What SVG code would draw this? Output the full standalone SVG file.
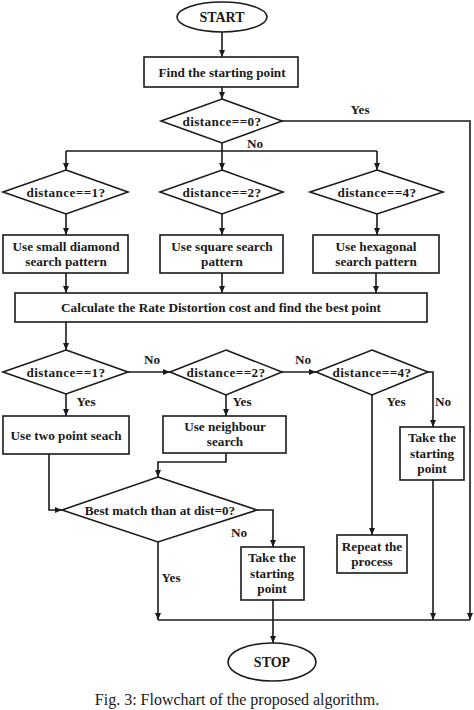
<svg xmlns="http://www.w3.org/2000/svg" width="474" height="710" viewBox="0 0 474 710">
<style>
.s{fill:#fff;stroke:#1a1a1a;stroke-width:1.6}
.c{fill:none;stroke:#1a1a1a;stroke-width:1.6}
text{font-family:"Liberation Serif","Times New Roman",serif;font-weight:bold;font-size:13.2px;fill:#1a1a1a;text-anchor:middle}
.l{font-size:14px}
.d{letter-spacing:0.4px}
.cap{font-weight:normal;font-size:16px}
</style>
<defs>
<marker id="a" markerWidth="8" markerHeight="8" refX="7" refY="4" orient="auto" markerUnits="userSpaceOnUse">
<path d="M0,1 L7,4 L0,7 Z" fill="#1a1a1a"/>
</marker>
</defs>
<rect width="474" height="710" fill="#fff"/>
<g id="connectors" class="c">
<path d="M222,32 V57" marker-end="url(#a)"/>
<path d="M222,87 V99" marker-end="url(#a)"/>
<path d="M282,121 H470 V620" marker-end="url(#a)"/>
<path d="M222,143 V151 M66,151 H377"/>
<path d="M66,151 V170" marker-end="url(#a)"/>
<path d="M222,151 V170" marker-end="url(#a)"/>
<path d="M377,151 V170" marker-end="url(#a)"/>
<path d="M66,214 V235" marker-end="url(#a)"/>
<path d="M222,214 V235" marker-end="url(#a)"/>
<path d="M377,214 V235" marker-end="url(#a)"/>
<path d="M66,273 V293" marker-end="url(#a)"/>
<path d="M222,273 V293" marker-end="url(#a)"/>
<path d="M376,273 V293" marker-end="url(#a)"/>
<path d="M66,322 V350" marker-end="url(#a)"/>
<path d="M128,372 H170" marker-end="url(#a)"/>
<path d="M282,372 H316" marker-end="url(#a)"/>
<path d="M428,372 H433 V427" marker-end="url(#a)"/>
<path d="M372,395 V535" marker-end="url(#a)"/>
<path d="M66,394 V416" marker-end="url(#a)"/>
<path d="M226,395 V416" marker-end="url(#a)"/>
<path d="M226,453 V462 H158 V477" marker-end="url(#a)"/>
<path d="M49,454 V510 H62" marker-end="url(#a)"/>
<path d="M257,510 H273 V547" marker-end="url(#a)"/>
<path d="M158,542 V620" marker-end="url(#a)"/>
<path d="M158,620 H470"/>
<path d="M433,480 V620" marker-end="url(#a)"/>
<path d="M273,600 V643" marker-end="url(#a)"/>
</g>
<g id="labels">
<text x="360" y="114">Yes</text>
<text x="255" y="148">No</text>
<text x="152" y="364">No</text>
<text x="303" y="364">No</text>
<text x="86" y="406">Yes</text>
<text x="242" y="406">Yes</text>
<text x="396" y="406">Yes</text>
<text x="443" y="406">No</text>
<text x="239" y="537">No</text>
<text x="171" y="582">Yes</text>
</g>
<g id="start"><ellipse class="s" cx="222" cy="17" rx="45" ry="15"/><text class="l" x="222" y="22">START</text></g>
<g id="find"><rect class="s" x="144" y="57" width="154" height="30"/><text x="222" y="76.5">Find the starting point</text></g>
<g id="d0"><polygon class="s" points="222,99 282,121 222,143 161,121"/><text class="d" x="222" y="125.5">distance==0?</text></g>
<g id="d1a"><polygon class="s" points="66,170 128,192 66,214 3,192"/><text class="d" x="66" y="196.5">distance==1?</text></g>
<g id="d2a"><polygon class="s" points="222,170 283,192 222,214 160,192"/><text class="d" x="222" y="196.5">distance==2?</text></g>
<g id="d4a"><polygon class="s" points="377,170 443,192 377,214 310,192"/><text class="d" x="377" y="196.5">distance==4?</text></g>
<g id="small"><rect class="s" x="3" y="235" width="125" height="38"/><text x="66" y="251">Use small diamond</text><text x="66" y="266">search pattern</text></g>
<g id="square"><rect class="s" x="160" y="235" width="123" height="38"/><text x="222" y="251">Use square search</text><text x="222" y="266">pattern</text></g>
<g id="hex"><rect class="s" x="313" y="235" width="126" height="38"/><text x="376" y="251">Use hexagonal</text><text x="376" y="266">search pattern</text></g>
<g id="calc"><rect class="s" x="15" y="293" width="412" height="29"/><text x="221" y="312">Calculate the Rate Distortion cost and find the best point</text></g>
<g id="d1b"><polygon class="s" points="66,350 128,372 66,394 3,372"/><text class="d" x="66" y="376.5">distance==1?</text></g>
<g id="d2b"><polygon class="s" points="226,350 282,372 226,395 170,372"/><text class="d" x="226" y="376.5">distance==2?</text></g>
<g id="d3b"><polygon class="s" points="372,350 428,372 372,395 316,372"/><text class="d" x="372" y="376.5">distance==4?</text></g>
<g id="twopoint"><rect class="s" x="3" y="416" width="126" height="38"/><text x="66" y="439.5">Use two point seach</text></g>
<g id="neighbour"><rect class="s" x="163" y="416" width="123" height="37"/><text x="225" y="431">Use neighbour</text><text x="225" y="446">search</text></g>
<g id="take1"><rect class="s" x="400" y="427" width="64" height="53"/><text x="432" y="442">Take the</text><text x="432" y="457.5">starting</text><text x="432" y="473">point</text></g>
<g id="best"><polygon class="s" points="158,477 257,510 158,542 62,510"/><text x="160" y="514.5">Best match than at dist=0?</text></g>
<g id="take2"><rect class="s" x="241" y="547" width="63" height="53"/><text x="272" y="562">Take the</text><text x="272" y="577.5">starting</text><text x="272" y="593">point</text></g>
<g id="repeat"><rect class="s" x="337" y="535" width="70" height="38"/><text x="372" y="550.5">Repeat the</text><text x="372" y="566">process</text></g>
<g id="stop"><ellipse class="s" cx="272" cy="662" rx="44" ry="19"/><text class="l" x="272" y="667">STOP</text></g>
<text class="cap" x="237" y="705">Fig. 3: Flowchart of the proposed algorithm.</text>
</svg>
